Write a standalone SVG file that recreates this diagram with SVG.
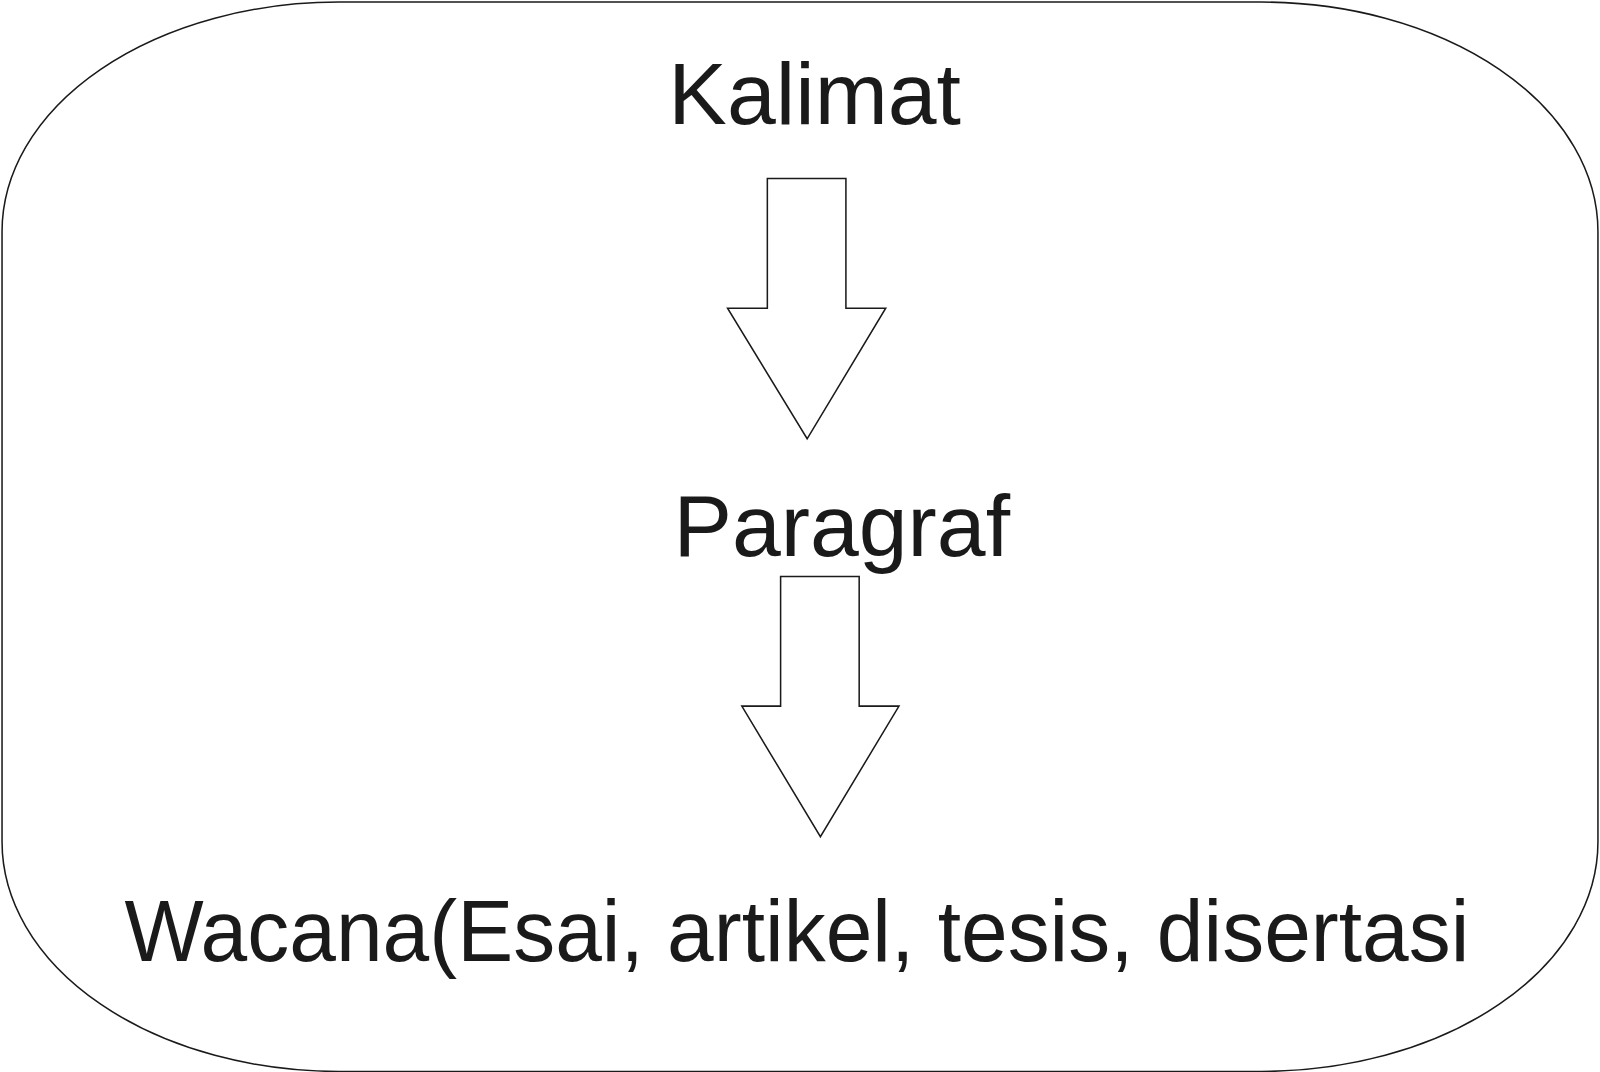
<svg xmlns="http://www.w3.org/2000/svg" width="1600" height="1072" viewBox="0 0 1600 1072">
<style>
.s{fill:#fff;stroke:#1a1a1a;stroke-width:1.5}
.t{font-family:"Liberation Sans",Arial,sans-serif;font-size:86px;fill:#1a1a1a}
</style>
<rect width="1600" height="1072" fill="#fff"/>
<g transform="scale(1.0204)">
<g id="frame"><rect class="s" x="2" y="2" width="1564" height="1048" rx="330" ry="225"/></g>
<g id="kalimat"><text class="t" x="655" y="122">Kalimat</text></g>
<g id="paragraf"><text class="t" x="660" y="545">Paragraf</text></g>
<g id="wacana"><text class="t" x="122" y="942" textLength="1318" lengthAdjust="spacingAndGlyphs">Wacana(Esai, artikel, tesis, disertasi</text></g>
<g id="connectors">
<polygon class="s" points="752,175 829,175 829,302 868,302 791,430 713,302 752,302"/>
<polygon class="s" points="765,565 842,565 842,692 881,692 804,820 727,692 765,692"/>
</g>
</g>
</svg>
